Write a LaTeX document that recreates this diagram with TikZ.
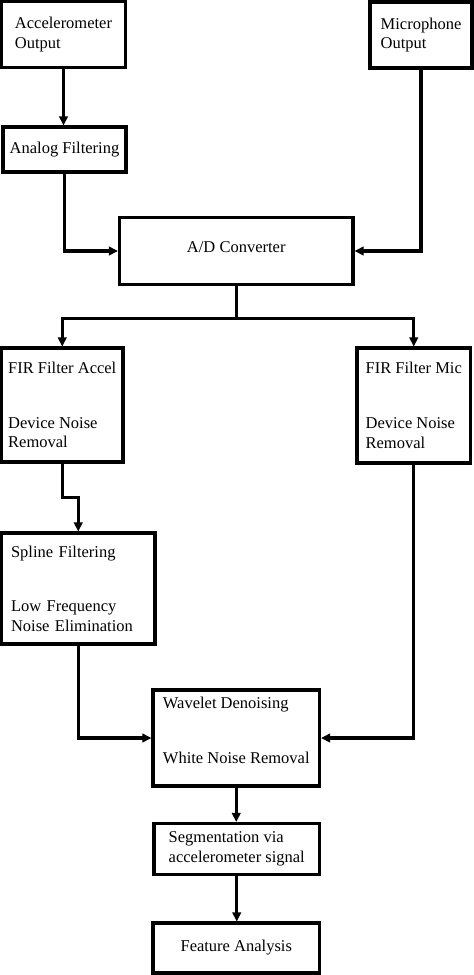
\documentclass[tikz,border=0pt]{standalone}
\usepackage{fontspec}
\setmainfont{Liberation Serif}
\usetikzlibrary{arrows.meta}
\begin{document}
\begin{tikzpicture}[x=1pt,y=-1pt,
  box/.style={draw, line width=3.1pt, align=left, inner sep=0pt, font=\fontsize{16.5}{19.5}\selectfont},
  arr/.style={line width=3.1pt, -{Triangle[length=9pt,width=8.5pt]}}]
\useasboundingbox (0,0) rectangle (474,975);
\node[box, minimum width=124pt, minimum height=66pt] (acc) at (63.5,34.5) {Accelerometer\\Output};
\node[box, minimum width=123pt, minimum height=45pt] (ana) at (64.5,149.5) {Analog Filtering};
\node[box, minimum width=102pt, minimum height=66pt] (mic) at (421,35) {Microphone\\Output};
\node[box, minimum width=233.5pt, minimum height=67pt] (ad) at (236.25,251) {A/D Converter\rule[-8pt]{0pt}{0pt}};
\node[box, minimum width=121.5pt, minimum height=114pt] (fira) at (62.25,405) {FIR Filter Accel\\[35.5pt]Device Noise\\Removal};
\node[box, minimum width=113.5pt, minimum height=115pt] (firm) at (413.75,405.5) {FIR Filter Mic\\[35.5pt]Device Noise\\Removal};
\node[box, minimum width=153.5pt, minimum height=111pt, text width=134.5pt, inner xsep=9.5pt] (spl) at (78.25,588.5) {Spline Filtering\\[35pt]Low Frequency\\Noise Elimination};
\node[box, minimum width=166.5pt, minimum height=96pt] (wav) at (236.25,738) {Wavelet Denoising\\[35.5pt]White Noise Removal\rule[-15pt]{0pt}{0pt}};
\node[box, minimum width=165.5pt, minimum height=51pt] (seg) at (236.75,849) {Segmentation via\\accelerometer signal};
\node[box, minimum width=166.5pt, minimum height=50pt] (fea) at (236.25,948) {Feature Analysis};
\draw[arr] (acc.south) -- (acc.south |- ana.north);
\draw[arr] (ana.south) |- (ad.west);
\draw[arr] (mic.south) |- (ad.east);
\path (ad.south) ++(0,32) coordinate (split);
\draw[arr] (ad.south) -- (split) -| (fira.north);
\draw[arr] (split) -| (firm.north);
\path (fira.south) ++(0,34) coordinate (jog);
\draw[arr] (fira.south) -- (jog) -| (spl.north);
\draw[arr] (spl.south) |- (wav.west);
\draw[arr] (firm.south) |- (wav.east);
\draw[arr] (wav.south) -- (wav.south |- seg.north);
\draw[arr] (seg.south) -- (seg.south |- fea.north);
\end{tikzpicture}
\end{document}
